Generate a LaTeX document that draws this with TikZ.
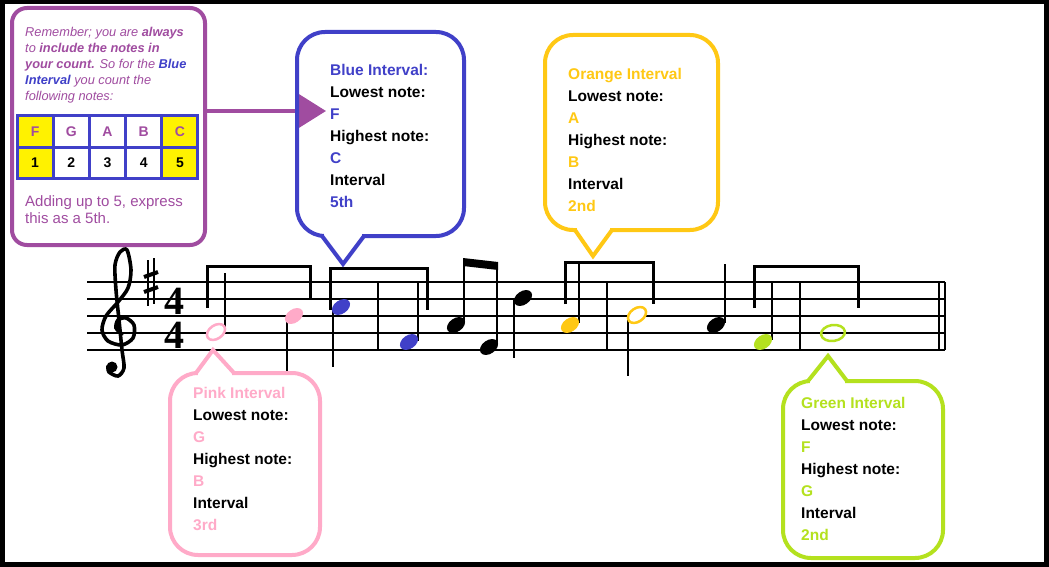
\documentclass[tikz,border=0pt]{standalone}
\usepackage{fontspec}
\setmainfont{Liberation Sans}
\usetikzlibrary{shapes.geometric,arrows.meta}
\definecolor{cpurple}{HTML}{A04CA0}
\definecolor{cblue}{HTML}{4040C8}
\definecolor{cpink}{HTML}{FFAAC8}
\definecolor{corange}{HTML}{FFC814}
\definecolor{cgreen}{HTML}{B4E11E}
\definecolor{cyellow}{HTML}{FFF200}
\tikzset{
  bubble/.style={line width=4pt, rounded corners=28pt},
  tail/.style={line width=4pt, line join=miter},
  btxt/.style={anchor=west, inner sep=0pt, text height=11.5pt, text depth=3pt, font=\fontsize{15.5}{16}\selectfont\bfseries},
  staffline/.style={line width=1.6pt},
  stem/.style={line width=1.6pt},
  bracket/.style={line width=3pt},
  head/.style={ellipse, minimum width=20pt, minimum height=13.5pt, inner sep=0pt, rotate=35},
  cell/.style={draw=cblue, line width=3pt, minimum width=36pt, minimum height=31pt, inner sep=0pt, font=\fontsize{14}{14}\selectfont\bfseries}
}
\begin{document}
\begin{tikzpicture}[x=1pt,y=-1pt]
\useasboundingbox (0,0) rectangle (1049,567);
\fill[white] (0,0) rectangle (1049,567);
\draw[line width=5pt] (2,2) rectangle (1046,564);

% staff
\foreach \yy in {282,299,316,333,350} \draw[staffline] (87,\yy) -- (945,\yy);
\foreach \xx in {378,607,800} \draw[line width=2pt] (\xx,282) -- (\xx,350);
\draw[line width=2pt] (939,282) -- (939,350);
\draw[line width=2.5pt] (945,282) -- (945,350);

% treble clef
\draw[line width=3.6pt, line cap=round] plot[smooth] coordinates {(122,334) (116,328) (118,320) (126,318) (134,325) (133,338) (122,345) (108,341) (102,330) (106,316) (118,302) (128,288) (131,270) (127,250) (120,252) (115,265) (116,290) (119,320) (122,350) (124,368) (118,376) (109,372) (108,366)};
\fill (112,367) circle (5.5);
% sharp
\draw[line width=1.8pt] (148,260) -- (148,306) (154,258) -- (154,304);
\draw[line width=4pt] (144,277) -- (158,272) (144,292) -- (158,287);
% time signature
\node[inner sep=0pt, text height=27pt, text depth=0pt, anchor=south] (ts1) at (174,315) {\fontsize{40}{40}\fontspec{Liberation Serif}\bfseries 4};
\node[inner sep=0pt, text height=27pt, text depth=0pt, anchor=south] (ts2) at (174,349) {\fontsize{40}{40}\fontspec{Liberation Serif}\bfseries 4};

% brackets
\draw[bracket] (207,308) -- (207,266) -- (310,266) -- (310,300);
\draw[bracket] (330,310) -- (330,268) -- (427,268) -- (427,310);
\draw[bracket] (565,304) -- (565,262) -- (653,262) -- (653,304);
\draw[bracket] (754,308) -- (754,266) -- (858,266) -- (858,308);
\fill (463,258) -- (498,262) -- (498,270) -- (463,266) -- cycle;

% stems
\draw[stem] (225,330) -- (225,273);
\draw[stem] (287,318) -- (287,373);
\draw[stem] (333,309) -- (333,367);
\draw[stem] (418,341) -- (418,282);
\draw[stem] (464,323) -- (464,262);
\draw[stem] (497,344) -- (497,266);
\draw[stem] (514,300) -- (514,358);
\draw[stem] (579,323) -- (579,264);
\draw[stem] (628,317) -- (628,376);
\draw[stem] (725,323) -- (725,264);
\draw[stem] (772,340) -- (772,282);

% note heads
\node[head, draw=cpink, line width=2.5pt, fill=white] (n1) at (216,332) {};
\node[head, fill=cpink] (n2) at (294,316) {};
\node[head, fill=cblue] (n3) at (341,307) {};
\node[head, fill=cblue] (n4) at (409,342) {};
\node[head, fill=black] (n5) at (456,325) {};
\node[head, fill=black] (n6) at (489,347) {};
\node[head, fill=black] (n7) at (523,298) {};
\node[head, fill=corange] (n8) at (570,325) {};
\node[head, draw=corange, line width=2.5pt, fill=white] (n9) at (637,315) {};
\node[head, fill=black] (n10) at (716,325) {};
\node[head, fill=cgreen] (n11) at (763,342) {};
\node[ellipse, draw=cgreen, line width=2.5pt, minimum width=24pt, minimum height=16pt, inner sep=0pt, rotate=8] (n12) at (833,333) {};

% purple box
\draw[cpurple, line width=4pt, rounded corners=15pt] (12,8) rectangle (205,245);
\draw[cpurple, line width=4pt, -{Triangle[length=28pt,width=34pt]}] (205,111) -- (326,111);
\node[anchor=north west, inner sep=0pt, align=left, text=cpurple, font=\fontsize{12.8}{16}\selectfont\itshape] (rem) at (25,27) {Remember; you are \textbf{always}\\to \textbf{include the notes in}\\\textbf{your count.} So for the \textcolor{cblue}{\textbf{Blue}}\\\textcolor{cblue}{\textbf{Interval}} you count the\\following notes:};
\fill[cyellow] (17,117) rectangle (53,178);
\fill[cyellow] (163,117) rectangle (198,178);
\foreach \l/\n [count=\i] in {F/t1,G/t2,A/t3,B/t4,C/t5} {
  \node[cell, text=cpurple] (\n) at (17+36.2*\i-18.1,131.5) {\l};
}
\foreach \l/\n [count=\i] in {1/u1,2/u2,3/u3,4/u4,5/u5} {
  \node[cell, text=black] (\n) at (17+36.2*\i-18.1,162.5) {\l};
}
\node[anchor=north west, inner sep=0pt, align=left, text=cpurple, font=\fontsize{15}{17}\selectfont] (add) at (25,195) {Adding up to 5, express\\this as a 5th.};

% blue bubble
\draw[cblue, bubble] (297,32) rectangle (464,236);
\fill[white] (324,230) rectangle (362,240);
\draw[cblue, tail] (322,236) -- (343,264) -- (364,236);
\node[btxt, text=cblue] (b1) at (330,71) {Blue Interval:};
\node[btxt] (b2) at (330,93) {Lowest note:};
\node[btxt, text=cblue] (b3) at (330,115) {F};
\node[btxt] (b4) at (330,137) {Highest note:};
\node[btxt, text=cblue] (b5) at (330,159) {C};
\node[btxt] (b6) at (330,181) {Interval};
\node[btxt, text=cblue] (b7) at (330,203) {5th};

% orange bubble
\draw[corange, bubble] (545,35) rectangle (718,230);
\fill[white] (577,224) rectangle (610,234);
\draw[corange, tail] (575,230) -- (593,256) -- (612,230);
\node[btxt, text=corange] (o1) at (568,75) {Orange Interval};
\node[btxt] (o2) at (568,97) {Lowest note:};
\node[btxt, text=corange] (o3) at (568,119) {A};
\node[btxt] (o4) at (568,141) {Highest note:};
\node[btxt, text=corange] (o5) at (568,163) {B};
\node[btxt] (o6) at (568,185) {Interval};
\node[btxt, text=corange] (o7) at (568,207) {2nd};

% pink bubble
\draw[cpink, bubble] (170,373) rectangle (320,555);
\fill[white] (198,369) rectangle (232,378);
\draw[cpink, tail] (196,373) -- (213,350) -- (234,373);
\node[btxt, text=cpink] (p1) at (193,394) {Pink Interval};
\node[btxt] (p2) at (193,416) {Lowest note:};
\node[btxt, text=cpink] (p3) at (193,438) {G};
\node[btxt] (p4) at (193,460) {Highest note:};
\node[btxt, text=cpink] (p5) at (193,482) {B};
\node[btxt] (p6) at (193,504) {Interval};
\node[btxt, text=cpink] (p7) at (193,526) {3rd};

% green bubble
\draw[cgreen, bubble] (783,381) rectangle (943,558);
\fill[white] (810,377) rectangle (845,386);
\draw[cgreen, tail] (808,381) -- (828,356) -- (847,381);
\node[btxt, text=cgreen] (g1) at (801,404) {Green Interval};
\node[btxt] (g2) at (801,426) {Lowest note:};
\node[btxt, text=cgreen] (g3) at (801,448) {F};
\node[btxt] (g4) at (801,470) {Highest note:};
\node[btxt, text=cgreen] (g5) at (801,492) {G};
\node[btxt] (g6) at (801,514) {Interval};
\node[btxt, text=cgreen] (g7) at (801,536) {2nd};
\end{tikzpicture}
\end{document}
